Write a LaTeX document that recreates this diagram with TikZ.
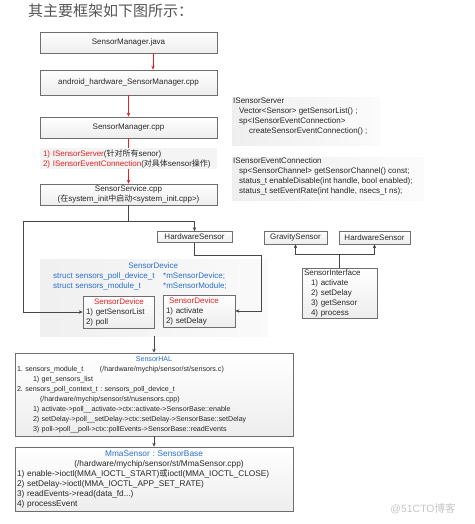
\documentclass[tikz,border=0pt]{standalone}
\usepackage{fontspec}
\setmainfont{Liberation Sans}
\newfontfamily\cjk{Noto Sans CJK SC}
\usetikzlibrary{arrows.meta,shadows,calc}
\definecolor{hblue}{RGB}{40,110,210}
\definecolor{hred}{RGB}{232,32,32}
\definecolor{lined}{RGB}{70,70,70}
\definecolor{boxline}{RGB}{110,110,110}
\definecolor{txt}{RGB}{40,40,40}
\definecolor{titlegray}{RGB}{85,85,85}
\newcommand\tf{\fontsize{8}{10}\selectfont}
\newcommand\hf{\fontsize{7.1}{10}\selectfont}
\newcommand\mf{\fontsize{8.3}{10}\selectfont}
\frenchspacing
\begin{document}
\begin{tikzpicture}[x=1pt,y=-1pt,
  box/.style={draw=boxline, line width=0.6pt, top color=white, bottom color=gray!14,
    inner sep=0pt, font=\tf, text=txt, align=center,
    drop shadow={shadow xshift=0.8pt, shadow yshift=-0.8pt, opacity=0.2}},
  infobox/.style={left color=gray!13, right color=gray!3, inner sep=1pt, font=\tf, text=txt},
  conn/.style={draw=lined, line width=0.6pt},
  arr/.style={conn, -{Stealth[length=4pt,width=3.4pt]}},
  redline/.style={draw=hred, line width=0.7pt},
  redarr/.style={redline, -{Stealth[length=4pt,width=3.4pt]}}]
\useasboundingbox (0,0) rectangle (474,524);
\fill[white] (0,0) rectangle (474,524);

\node[font=\cjk\fontsize{15}{17}\selectfont, text=titlegray, anchor=west, inner sep=0pt] (title) at (28,10.5) {其主要框架如下图所示：};

% left chain
\node[box, minimum width=177pt, minimum height=21pt] (smj) at (128.5,42.5) {SensorManager.java};
\node[box, minimum width=177pt, minimum height=25pt] (sma) at (128.5,82.5) {android\_hardware\_SensorManager.cpp};
\node[box, minimum width=177pt, minimum height=21pt] (smc) at (128.5,127.5) {SensorManager.cpp};
\node[fill=gray!9, minimum width=177pt, minimum height=21pt, inner xsep=3pt, inner ysep=0pt,
      text width=171pt, align=left, font=\tf, text=txt] (lab) at (128.5,158.5)
  {{\color{hred}1) ISensorServer}({\cjk 针对所有}senor)\\
   {\color{hred}2) ISensorEventConnection}({\cjk 对具体}sensor{\cjk 操作})};
\node[box, minimum width=177pt, minimum height=21pt] (svc) at (128.5,194.5)
  {SensorService.cpp\\({\cjk 在}system\_init{\cjk 中启动}<system\_init.cpp>)};

\draw[redarr] ([xshift=24.5pt]smj.south) -- ([xshift=24.5pt]sma.north);
\draw[redarr] (sma.south) -- (smc.north);
\draw[redline] (smc.south) -- (lab.north);
\draw[redarr] (lab.south) -- (svc.north);

% right info blocks
\node[infobox, anchor=north west] (iss) at (232,97)
  {\parbox[t][46pt][t]{146pt}{ISensorServer\\
   \hspace*{6pt}Vector<Sensor> getSensorList() ;\\
   \hspace*{6pt}sp<ISensorEventConnection>\\
   \hspace*{16pt}createSensorEventConnection() ;}};
\node[infobox, anchor=north west] (iec) at (232,157)
  {\parbox[t][41pt][t]{190pt}{ISensorEventConnection\\
   \hspace*{6pt}sp<SensorChannel> getSensorChannel() const;\\
   \hspace*{6pt}status\_t enableDisable(int handle, bool enabled);\\
   \hspace*{6pt}status\_t setEventRate(int handle, nsecs\_t ns);}};

% hardware sensor and device block
\node[box, minimum width=75pt, minimum height=11pt] (hw1) at (194.5,237) {HardwareSensor};
\node[left color=gray!12, right color=gray!4, minimum width=228pt, minimum height=77pt, inner sep=0pt] (devbg) at (154,297.5) {};
\node[font=\tf, text=hblue, align=left, anchor=north west, inner sep=0pt, text width=200pt] (devtxt) at (53,263)
  {\makebox[200pt]{SensorDevice}\\
   \makebox[110pt][l]{struct sensors\_poll\_device\_t}*mSensorDevice;\\
   \makebox[110pt][l]{struct sensors\_module\_t}*mSensorModule;};
\node[box, minimum width=71pt, minimum height=32pt, inner xsep=3pt, text width=65pt, align=left] (devL) at (118.5,312)
  {\hspace*{8pt}{\color{hred}SensorDevice}\\1) getSensorList\\2) poll};
\node[box, minimum width=72pt, minimum height=32pt, inner xsep=3pt, text width=66pt, align=left] (devR) at (199,311)
  {\hspace*{3pt}{\color{hred}SensorDevice}\\1) activate\\2) setDelay};

\coordinate (jn) at (128.5,221);
\coordinate (jl) at (23,221);
\coordinate (jr) at (261,255);
\draw[arr] (svc.south) -- (jn) -| (hw1.north);
\draw[arr] (jn) -- (jl) |- (devL.west);
\draw[arr] (hw1.south) |- (jr) |- (devR.east);

% sensor interface
\node[box, minimum width=63pt, minimum height=13pt] (grav) at (295.5,237.5) {GravitySensor};
\node[box, minimum width=71pt, minimum height=13pt] (hw2) at (374.5,237.5) {HardwareSensor};
\node[box, minimum width=75pt, minimum height=50pt, inner xsep=2pt, text width=71pt, align=left] (si) at (339.5,293)
  {SensorInterface\\\hspace*{7pt}1) activate\\\hspace*{7pt}2) setDelay\\\hspace*{7pt}3) getSensor\\\hspace*{7pt}4) process};
\coordinate (sj) at (339.5,254);
\draw[conn] (si.north) -- (sj);
\draw[arr] (sj) -| (grav.south);
\draw[arr] (sj) -| (hw2.south);

% HAL
\node[box, font=\hf, minimum width=278pt, minimum height=83pt, inner xsep=2pt, text width=274pt, align=left] (hal) at (154,394.5)
  {\makebox[274pt]{\color{hblue}SensorHAL}\\
   \makebox[83pt][l]{1. sensors\_module\_t}(/hardware/mychip/sensor/st/sensors.c)\\
   \hspace*{16pt}1) get\_sensors\_list\\
   2. sensors\_poll\_context\_t : sensors\_poll\_device\_t\\
   \hspace*{23pt}(/hardware/mychip/sensor/st/nusensors.cpp)\\
   \hspace*{16pt}1) activate->poll\_\_activate->ctx::activate->SensorBase::enable\\
   \hspace*{16pt}2) setDelay->poll\_\_setDelay->ctx::setDelay->SensorBase::setDelay\\
   \hspace*{16pt}3) poll->poll\_\_poll->ctx::pollEvents->SensorBase::readEvents};
\node[box, font=\mf, minimum width=278pt, minimum height=64pt, inner xsep=2pt, text width=274pt, align=left] (mma) at (154,479)
  {\makebox[274pt]{\color{hblue}MmaSensor : SensorBase}\\
   \makebox[274pt]{\hspace*{10pt}(/hardware/mychip/sensor/st/MmaSensor.cpp)}\\
   1) enable->ioctl(MMA\_IOCTL\_START){\cjk 或}ioctl(MMA\_IOCTL\_CLOSE)\\
   2) setDelay->ioctl(MMA\_IOCTL\_APP\_SET\_RATE)\\
   3) readEvents->read(data\_fd...)\\
   4) processEvent};
\draw[arr] (devbg.south) -- (hal.north);
\draw[arr] (hal.south) -- (mma.north);

\node[font=\fontsize{10.5}{12}\selectfont, text=gray!45] (wm) at (423,509) {@51CTO{\cjk 博客}};
\end{tikzpicture}
\end{document}
